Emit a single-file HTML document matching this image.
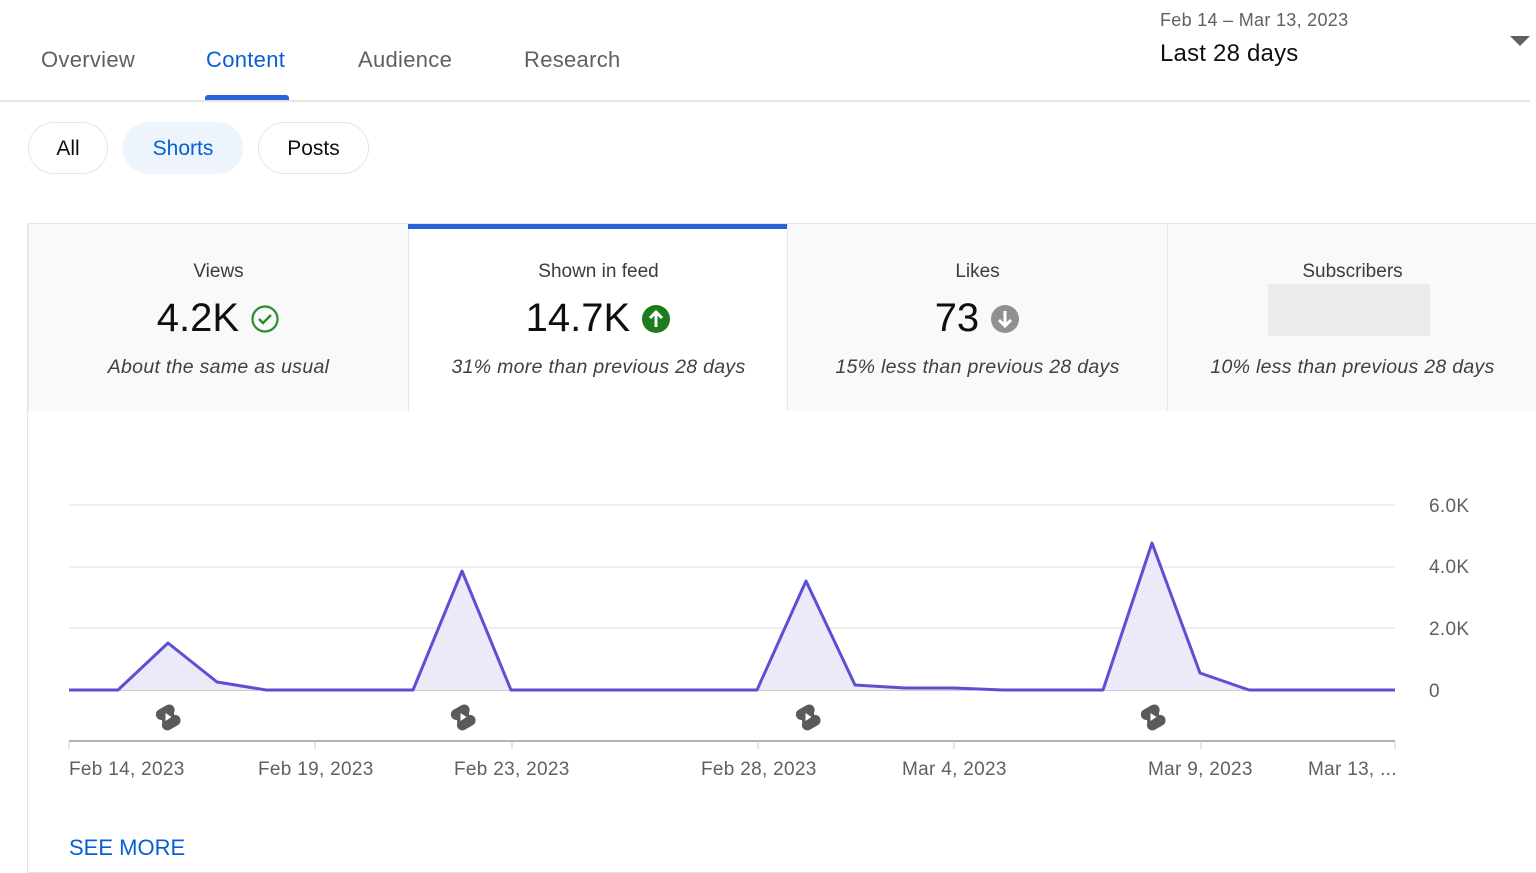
<!DOCTYPE html>
<html><head><style>
body{margin:0;width:1536px;height:871px;background:#fff;font-family:"Liberation Sans",sans-serif;position:relative;overflow:hidden;color:#0f0f0f}
.a{position:absolute;white-space:nowrap}
.tab{font-size:22px;color:#606060;top:47px;letter-spacing:0.3px}
.chip{position:absolute;top:122px;height:52px;border:1px solid #e5e5e5;border-radius:26px;font-size:21px;line-height:52px;text-align:center;box-sizing:border-box}
.card{position:absolute;top:224px;height:187px;width:380px;background:#f9f9f9;border-left:1px solid #e5e5e5;box-sizing:border-box;text-align:center}
.card .t{position:absolute;top:37px;width:100%;font-size:19px;color:#3c3c3c}
.card .v{position:absolute;top:72px;width:100%;font-size:40px}
.card .s{position:absolute;top:132px;width:100%;font-size:19.5px;font-style:italic;color:#404040;letter-spacing:0.3px}
</style></head><body>
<div class="a tab" style="left:41px">Overview</div>
<div class="a tab" style="left:206px;color:#065fd4">Content</div>
<div class="a" style="left:205px;top:95px;width:84px;height:5px;background:#2962d9;border-radius:3px 3px 0 0"></div>
<div class="a tab" style="left:358px">Audience</div>
<div class="a tab" style="left:524px">Research</div>
<div class="a" style="left:1160px;top:10px;font-size:18px;color:#606060;letter-spacing:0.3px">Feb 14 – Mar 13, 2023</div>
<div class="a" style="left:1160px;top:40px;font-size:24px;letter-spacing:0.2px">Last 28 days</div>
<div class="a" style="left:1510px;top:36px;width:0;height:0;border-left:10px solid transparent;border-right:10px solid transparent;border-top:10px solid #606060"></div>
<div class="a" style="left:0;top:100px;width:1530px;height:2px;background:#e5e5e5"></div>
<div class="chip" style="left:28px;width:80px">All</div>
<div class="chip" style="left:123px;width:120px;background:#eef4fb;border-color:#eef4fb;color:#065fd4">Shorts</div>
<div class="chip" style="left:258px;width:111px">Posts</div>
<div class="a" style="left:27px;top:223px;width:1510px;height:650px;border:1px solid #e5e5e5;box-sizing:border-box"></div>
<div class="card" style="left:28px"><div class="t">Views</div><div class="v">4.2K <svg width="30" height="30" viewBox="0 0 30 30" style="vertical-align:-3px"><circle cx="15" cy="15" r="12.5" fill="none" stroke="#2e8b2e" stroke-width="2.2"/><path d="M9 15l4 4 8-8" fill="none" stroke="#2e8b2e" stroke-width="2.4"/></svg></div><div class="s">About the same as usual</div></div>
<div class="card" style="left:408px;background:#fff"><div class="t">Shown in feed</div><div class="v">14.7K <svg width="30" height="30" viewBox="0 0 30 30" style="vertical-align:-3px"><circle cx="15" cy="15" r="14" fill="#1e7b1e"/><path d="M15 23V8M9 14l6-6 6 6" fill="none" stroke="#fff" stroke-width="3"/></svg></div><div class="s">31% more than previous 28 days</div></div>
<div class="a" style="left:408px;top:224px;width:379px;height:5px;background:#2962d9"></div>
<div class="card" style="left:787px"><div class="t">Likes</div><div class="v">73 <svg width="30" height="30" viewBox="0 0 30 30" style="vertical-align:-3px"><circle cx="15" cy="15" r="14" fill="#909090"/><path d="M15 7v15M9 16l6 6 6-6" fill="none" stroke="#fff" stroke-width="3"/></svg></div><div class="s">15% less than previous 28 days</div></div>
<div class="card" style="left:1167px;width:370px"><div class="t">Subscribers</div><div class="a" style="left:100px;top:60px;width:162px;height:52px;background:#ebebeb"></div><div class="s">10% less than previous 28 days</div></div>
<svg class="a" style="left:0;top:0" width="1536" height="871">
<defs><g id="sh"><g transform="rotate(-30)"><rect x="-10" y="-11" width="20" height="11" rx="5.5"/><rect x="-10" y="1" width="20" height="11" rx="5.5"/></g><rect x="-6" y="-6" width="12" height="12" rx="2"/><path d="M-2.5-4l6 4-6 4z" fill="#fff"/></g></defs>
<g stroke="#e8e8e8" stroke-width="1.5"><line x1="69" y1="505" x2="1395" y2="505"/><line x1="69" y1="567" x2="1395" y2="567"/><line x1="69" y1="628" x2="1395" y2="628"/></g>
<line x1="69" y1="690" x2="1395" y2="690" stroke="#999"/>
<line x1="69" y1="741" x2="1395" y2="741" stroke="#999" stroke-width="1.5"/>
<g stroke="#ccc"><line x1="69" y1="741" x2="69" y2="749"/><line x1="315" y1="741" x2="315" y2="749"/><line x1="512" y1="741" x2="512" y2="749"/><line x1="758" y1="741" x2="758" y2="749"/><line x1="954" y1="741" x2="954" y2="749"/><line x1="1201" y1="741" x2="1201" y2="749"/><line x1="1395" y1="741" x2="1395" y2="749"/></g>
<polygon fill="#eceaf8" points="69,690 118,690 168,643 217,682 266,690 413,690 462,571 511,690 757,690 806,581 855,685 905,688 954,688 1003,690 1103,690 1152,543 1200,673 1249,690 1395,690"/>
<polyline fill="none" stroke="#5b4fd4" stroke-width="3" stroke-linejoin="round" points="69,690 118,690 168,643 217,682 266,690 413,690 462,571 511,690 757,690 806,581 855,685 905,688 954,688 1003,690 1103,690 1152,543 1200,673 1249,690 1395,690"/>
<g font-family="Liberation Sans" font-size="19" fill="#606060" letter-spacing="0.3">
<text x="1429" y="512">6.0K</text><text x="1429" y="573">4.0K</text><text x="1429" y="635">2.0K</text><text x="1429" y="697">0</text>
<text x="69" y="775">Feb 14, 2023</text><text x="258" y="775">Feb 19, 2023</text><text x="454" y="775">Feb 23, 2023</text><text x="701" y="775">Feb 28, 2023</text><text x="902" y="775">Mar 4, 2023</text><text x="1148" y="775">Mar 9, 2023</text><text x="1308" y="775">Mar 13, ...</text>
</g>
<g fill="#5a5a5a">
<use href="#sh" x="168" y="717"/><use href="#sh" x="463" y="717"/><use href="#sh" x="808" y="717"/><use href="#sh" x="1153" y="717"/>
</g>
</svg>
<div class="a" style="left:69px;top:835px;font-size:22px;color:#065fd4">SEE MORE</div>
</body></html>
